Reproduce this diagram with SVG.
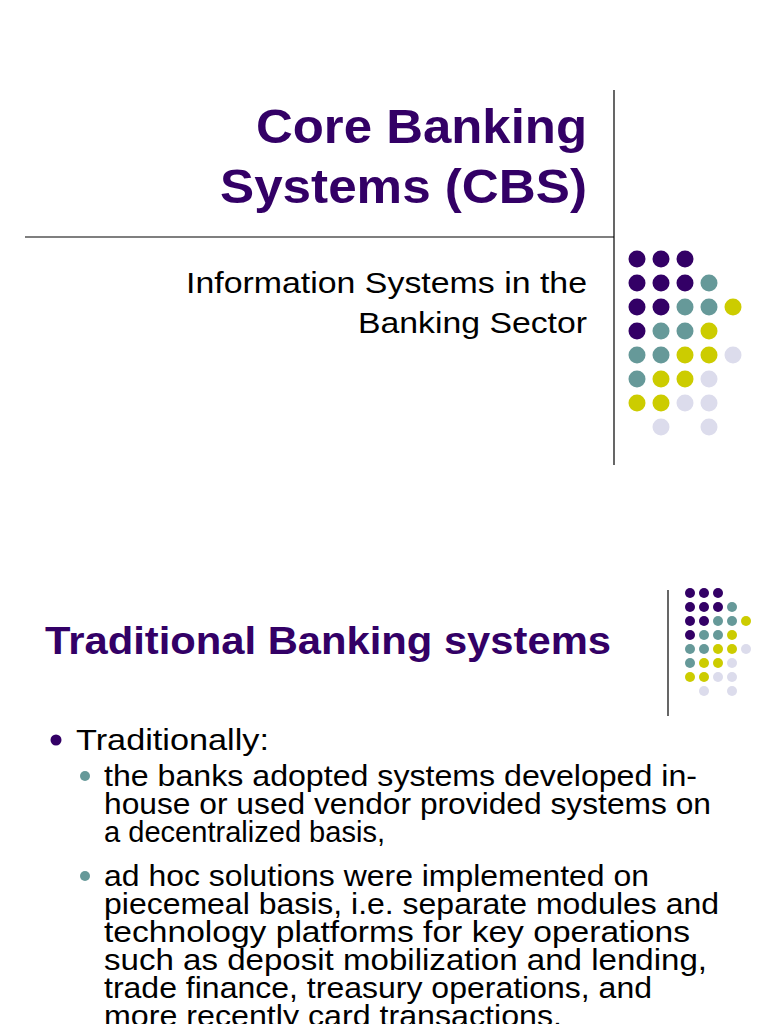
<svg xmlns="http://www.w3.org/2000/svg" width="768" height="1024" viewBox="0 0 768 1024">
<style>
.t{font-family:"Liberation Sans",Arial,sans-serif;font-weight:bold;fill:#330066}
.b{font-family:"Liberation Sans",Arial,sans-serif;fill:#000;font-size:30px}
.P{fill:#330066}.T{fill:#669999}.Y{fill:#cccc00}.L{fill:#dcdcec}
.ln{stroke:#000;stroke-width:1.2}
</style>
<rect width="768" height="1024" fill="#fff"/>
<line class="ln" x1="614" y1="90" x2="614" y2="465"/>
<line class="ln" x1="25" y1="237" x2="614" y2="237"/>
<text class="t" font-size="48" x="256" y="143" textLength="331" lengthAdjust="spacingAndGlyphs">Core Banking</text>
<text class="t" font-size="48" x="220" y="203" textLength="367" lengthAdjust="spacingAndGlyphs">Systems (CBS)</text>
<text class="b" x="186" y="293" textLength="401" lengthAdjust="spacingAndGlyphs">Information Systems in the</text>
<text class="b" x="358" y="333" textLength="229" lengthAdjust="spacingAndGlyphs">Banking Sector</text>
<g id="dots1">
<circle class="P" cx="637" cy="259" r="8.5"/><circle class="P" cx="661" cy="259" r="8.5"/><circle class="P" cx="685" cy="259" r="8.5"/>
<circle class="P" cx="637" cy="283" r="8.5"/><circle class="P" cx="661" cy="283" r="8.5"/><circle class="P" cx="685" cy="283" r="8.5"/><circle class="T" cx="709" cy="283" r="8.5"/>
<circle class="P" cx="637" cy="307" r="8.5"/><circle class="P" cx="661" cy="307" r="8.5"/><circle class="T" cx="685" cy="307" r="8.5"/><circle class="T" cx="709" cy="307" r="8.5"/><circle class="Y" cx="733" cy="307" r="8.5"/>
<circle class="P" cx="637" cy="331" r="8.5"/><circle class="T" cx="661" cy="331" r="8.5"/><circle class="T" cx="685" cy="331" r="8.5"/><circle class="Y" cx="709" cy="331" r="8.5"/>
<circle class="T" cx="637" cy="355" r="8.5"/><circle class="T" cx="661" cy="355" r="8.5"/><circle class="Y" cx="685" cy="355" r="8.5"/><circle class="Y" cx="709" cy="355" r="8.5"/><circle class="L" cx="733" cy="355" r="8.5"/>
<circle class="T" cx="637" cy="379" r="8.5"/><circle class="Y" cx="661" cy="379" r="8.5"/><circle class="Y" cx="685" cy="379" r="8.5"/><circle class="L" cx="709" cy="379" r="8.5"/>
<circle class="Y" cx="637" cy="403" r="8.5"/><circle class="Y" cx="661" cy="403" r="8.5"/><circle class="L" cx="685" cy="403" r="8.5"/><circle class="L" cx="709" cy="403" r="8.5"/>
<circle class="L" cx="661" cy="427" r="8.5"/><circle class="L" cx="709" cy="427" r="8.5"/>
</g>
<line class="ln" x1="668" y1="590" x2="668" y2="716"/>
<g id="dots2">
<circle class="P" cx="690" cy="593" r="5"/><circle class="P" cx="704" cy="593" r="5"/><circle class="P" cx="718" cy="593" r="5"/>
<circle class="P" cx="690" cy="607" r="5"/><circle class="P" cx="704" cy="607" r="5"/><circle class="P" cx="718" cy="607" r="5"/><circle class="T" cx="732" cy="607" r="5"/>
<circle class="P" cx="690" cy="621" r="5"/><circle class="P" cx="704" cy="621" r="5"/><circle class="T" cx="718" cy="621" r="5"/><circle class="T" cx="732" cy="621" r="5"/><circle class="Y" cx="746" cy="621" r="5"/>
<circle class="P" cx="690" cy="635" r="5"/><circle class="T" cx="704" cy="635" r="5"/><circle class="T" cx="718" cy="635" r="5"/><circle class="Y" cx="732" cy="635" r="5"/>
<circle class="T" cx="690" cy="649" r="5"/><circle class="T" cx="704" cy="649" r="5"/><circle class="Y" cx="718" cy="649" r="5"/><circle class="Y" cx="732" cy="649" r="5"/><circle class="L" cx="746" cy="649" r="5"/>
<circle class="T" cx="690" cy="663" r="5"/><circle class="Y" cx="704" cy="663" r="5"/><circle class="Y" cx="718" cy="663" r="5"/><circle class="L" cx="732" cy="663" r="5"/>
<circle class="Y" cx="690" cy="677" r="5"/><circle class="Y" cx="704" cy="677" r="5"/><circle class="L" cx="718" cy="677" r="5"/><circle class="L" cx="732" cy="677" r="5"/>
<circle class="L" cx="704" cy="691" r="5"/><circle class="L" cx="732" cy="691" r="5"/>
</g>
<text class="t" font-size="38" x="45" y="654" textLength="566" lengthAdjust="spacingAndGlyphs">Traditional Banking systems</text>
<circle class="P" cx="56" cy="740" r="5.5"/>
<text class="b" x="76" y="750" textLength="193" lengthAdjust="spacingAndGlyphs">Traditionally:</text>
<circle class="T" cx="85" cy="776" r="5"/>
<circle class="T" cx="85" cy="876" r="5"/>
<text class="b" x="104" y="786" textLength="593" lengthAdjust="spacingAndGlyphs">the banks adopted systems developed in-</text>
<text class="b" x="104" y="814" textLength="607" lengthAdjust="spacingAndGlyphs">house or used vendor provided systems on</text>
<text class="b" x="104" y="842" textLength="281" lengthAdjust="spacingAndGlyphs">a decentralized basis,</text>
<text class="b" x="104" y="886" textLength="545" lengthAdjust="spacingAndGlyphs">ad hoc solutions were implemented on</text>
<text class="b" x="104" y="914" textLength="615" lengthAdjust="spacingAndGlyphs">piecemeal basis, i.e. separate modules and</text>
<text class="b" x="104" y="942" textLength="586" lengthAdjust="spacingAndGlyphs">technology platforms for key operations</text>
<text class="b" x="104" y="970" textLength="603" lengthAdjust="spacingAndGlyphs">such as deposit mobilization and lending,</text>
<text class="b" x="104" y="998" textLength="548" lengthAdjust="spacingAndGlyphs">trade finance, treasury operations, and</text>
<text class="b" x="104" y="1026" textLength="458" lengthAdjust="spacingAndGlyphs">more recently card transactions.</text>
</svg>
